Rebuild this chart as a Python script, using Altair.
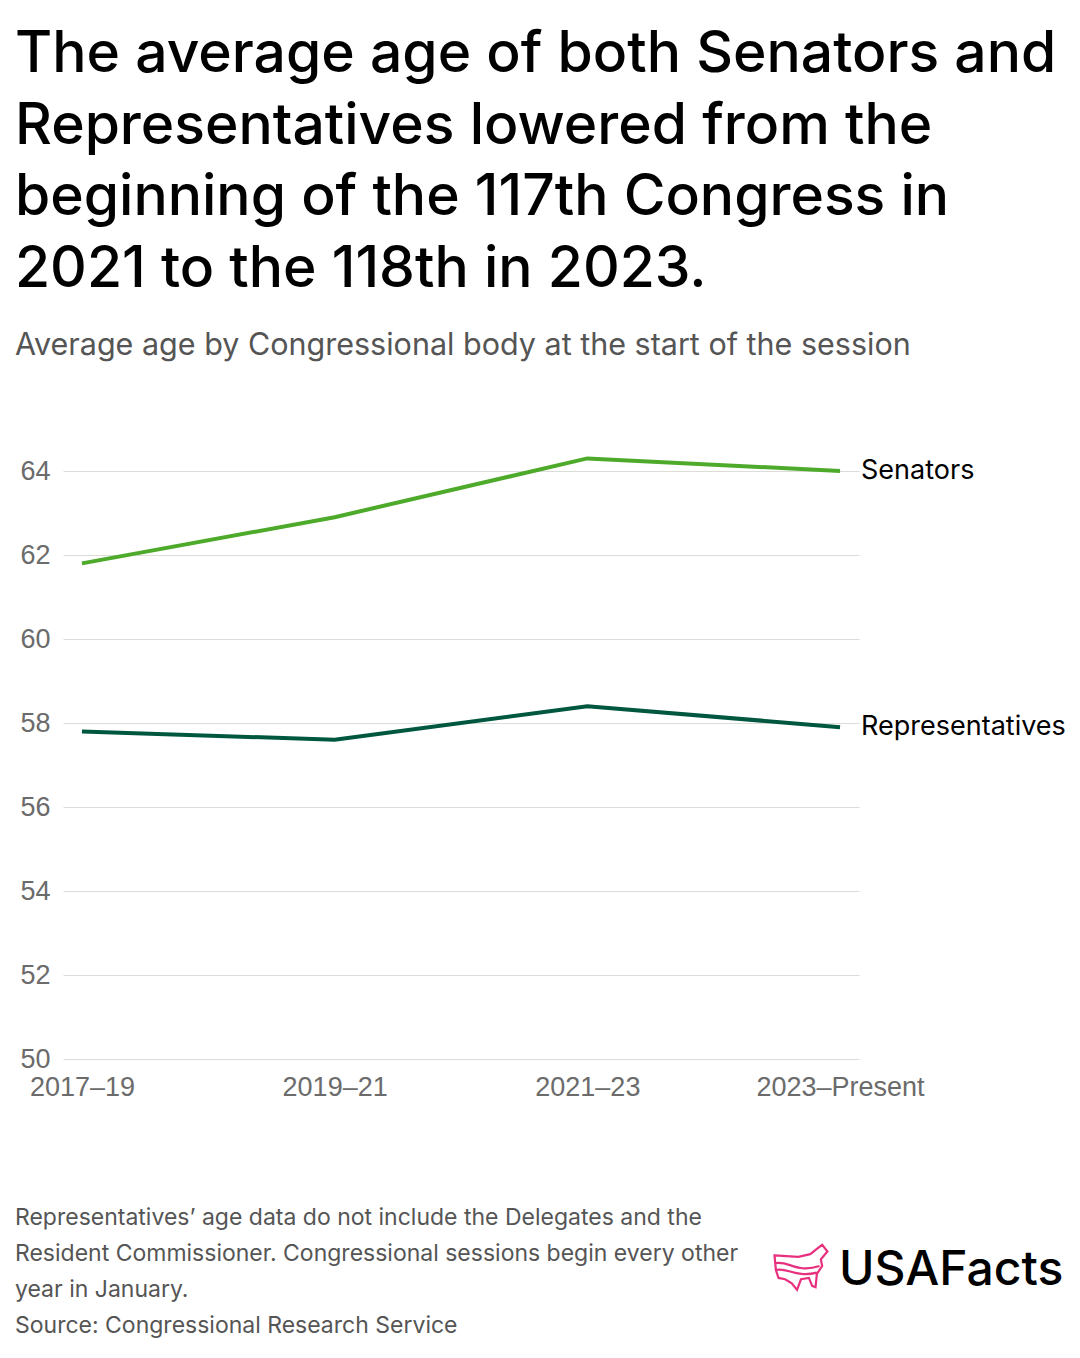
import altair as alt
import pandas as pd

sessions = ["2017–19", "2019–21", "2021–23", "2023–Present"]
senators = [61.8, 62.9, 64.3, 64.0]
representatives = [57.8, 57.6, 58.4, 57.9]
series_names = ["Senators", "Representatives"]
series_colors = ["#4EAA2A", "#00573F"]
y_ticks = [50, 52, 54, 56, 58, 60, 62, 64]

title_text = ("The average age of both Senators and\nRepresentatives lowered from the\n"
              "beginning of the 117th Congress in\n2021 to the 118th in 2023.")
subtitle_text = "Average age by Congressional body at the start of the session"
note_text = ("Representatives’ age data do not include the Delegates and the\n"
             "Resident Commissioner. Congressional sessions begin every other\n"
             "year in January.\nSource: Congressional Research Service")
logo_text = "USAFacts"

rows = []
for name, vals in zip(series_names, [senators, representatives]):
    for s, v in zip(sessions, vals):
        rows.append({"session": s, "age": v, "series": name})
df = pd.DataFrame(rows)
last = df[df["session"] == sessions[-1]]

FONT = "Inter"
AXIS_FONT = "Liberation Sans"

x_enc = alt.X("session:N", sort=sessions, title=None,
              scale=alt.Scale(type="point", padding=0.075),
              axis=alt.Axis(labelAngle=0, labelFontSize=27, labelColor="#6b6b6b",
                            labelFont=AXIS_FONT, labelPadding=15,
                            ticks=False, domain=False, grid=False))
y_enc = alt.Y("age:Q", title=None,
              scale=alt.Scale(domain=[50, 65], nice=False, zero=False),
              axis=alt.Axis(values=y_ticks, labelFontSize=27, labelColor="#6b6b6b",
                            labelFont=AXIS_FONT, labelPadding=13,
                            ticks=False, domain=False, grid=True,
                            gridColor="#dcdcd8", gridWidth=1))
color_enc = alt.Color("series:N", legend=None,
                      scale=alt.Scale(domain=series_names, range=series_colors))

lines = alt.Chart(df).mark_line(strokeWidth=4).encode(x=x_enc, y=y_enc, color=color_enc)

end_labels = alt.Chart(last).mark_text(align="left", baseline="middle", dx=21,
                                        fontSize=27, font=FONT, color="#000000").encode(
    x=alt.X("session:N", sort=sessions, scale=alt.Scale(type="point", padding=0.075)),
    y=alt.Y("age:Q", scale=alt.Scale(domain=[50, 65], nice=False, zero=False)),
    text="series:N")

def txt(text, x, y, size, color, weight=400, line_height=None, font=FONT):
    kw = dict(align="left", baseline="alphabetic", fontSize=size, color=color,
              fontWeight=weight, font=font, lineBreak="\n")
    if line_height:
        kw["lineHeight"] = line_height
    return alt.Chart(pd.DataFrame({"t": [text]})).mark_text(**kw).encode(
        x=alt.value(x), y=alt.value(y), text="t:N")

title = txt(title_text, -48, -357, 57, "#000000", 500, 71.7)
subtitle = txt(subtitle_text, -48, -74, 30.5, "#555555", 400)
note = txt(note_text, -48, 796, 23, "#555555", 400, 36)
logo = txt(logo_text, 776, 856, 48, "#000000", 500)

icon_path = ("M -1,-0.55 L -0.1,-0.5 L 0.35,-0.6 L 0.6,-0.8 L 0.8,-0.95 L 1,-0.7 L 0.75,-0.4 "
             "L 0.8,-0.15 L 0.6,0.15 L 0.55,0.65 L 0.42,0.6 L 0.3,0.3 L 0.0,0.35 L -0.15,0.75 "
             "L -0.35,0.5 L -0.6,0.35 L -0.85,0.3 L -0.95,0 Z "
             "M -1,-0.25 C -0.5,-0.4 -0.2,0.15 0.7,-0.15 "
             "M -0.95,0.0 C -0.5,-0.1 -0.2,0.3 0.6,0.1")
icon = alt.Chart(pd.DataFrame({"k": [0]})).mark_point(
    shape=icon_path, filled=False, stroke="#E8317E", strokeWidth=2.2, size=2800, opacity=1
).encode(x=alt.value(738), y=alt.value(841))

chart = alt.layer(lines, end_labels, title, subtitle, note, logo, icon).properties(
    width=796, height=630,
    padding={"left": 55, "top": 421, "right": 213, "bottom": 291},
    autosize=alt.AutoSizeParams(type="none"),
    background="#ffffff",
).configure_view(stroke=None)

chart.save("out.html", embed_options={"renderer": "svg", "actions": False})
